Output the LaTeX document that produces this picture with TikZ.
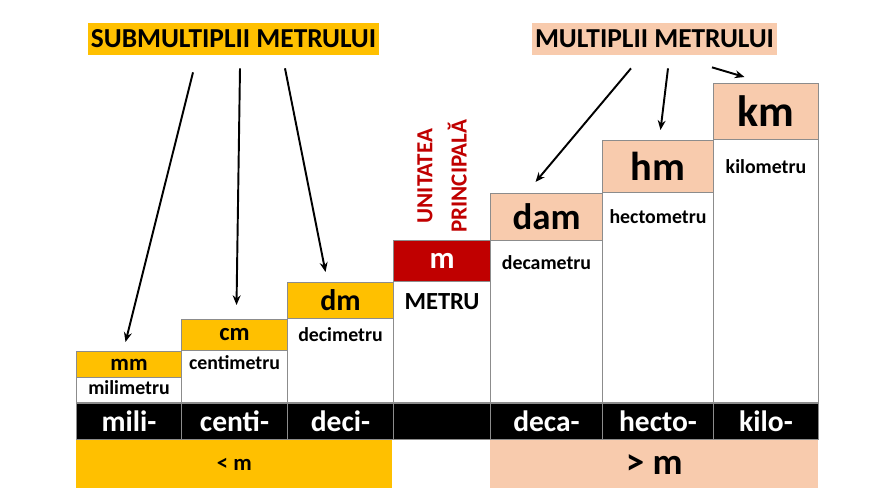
\documentclass[tikz,border=0pt]{standalone}
\usepackage{fontspec}
\setmainfont{Carlito}
\usetikzlibrary{positioning, arrows.meta}

\definecolor{subyellow}{HTML}{FFC000}
\definecolor{multpeach}{HTML}{F8CBAD}
\definecolor{unitred}{HTML}{C00000}
\definecolor{edgegray}{HTML}{8C8C8C}

\newcommand{\boldsize}[1]{\bfseries\fontsize{#1}{#1}\selectfont}

\begin{document}
\begin{tikzpicture}[
  x=0.02cm, y=-0.02cm,
  cell/.style={draw=edgegray, fill=white, anchor=north west, inner sep=0pt, line width=0.6pt},
  head/.style={draw=edgegray, anchor=north, inner sep=0pt, line width=0.6pt},
  lbl/.style={inner sep=0pt, text height=0.7em, text depth=0pt, font=\boldsize{11.3}},
  band/.style={draw=edgegray, fill=black, text=white, anchor=north, inner sep=0pt, line width=0.6pt,
    minimum height=0.72cm, font=\boldsize{16.8}},
  heading/.style={inner sep=0pt, minimum height=0.64cm, font=\boldsize{15.6}},
  arr/.style={-{Stealth[length=5.5pt, width=4.5pt]}, line width=1.1pt}
  ]
\useasboundingbox (0,0) rectangle (894,503);

% titluri
\node[heading, fill=subyellow, minimum width=5.82cm] (sub) at (233.5,39) {SUBMULTIPLII METRULUI};
\node[heading, fill=multpeach, minimum width=4.90cm] (mult) at (654.5,39) {MULTIPLII METRULUI};

% submultipli
\node[cell, minimum width=2.10cm, minimum height=1.02cm] (c1) at (76,351) {};
\node[head, fill=subyellow, minimum width=2.10cm, minimum height=0.52cm, font=\boldsize{13}] (mm) at (c1.north) {mm};
\node[lbl, below=2.3pt of mm] (milimetru) {milimetru};

\node[cell, minimum width=2.12cm, minimum height=1.66cm] (c2) at (181,319) {};
\node[head, fill=subyellow, minimum width=2.12cm, minimum height=0.62cm, font=\boldsize{14}] (cm) at (c2.north) {cm};
\node[lbl, below=3.4pt of cm] (centimetru) {centimetru};

\node[cell, minimum width=2.12cm, minimum height=2.40cm] (c3) at (287,282) {};
\node[head, fill=subyellow, minimum width=2.12cm, minimum height=0.72cm, font=\boldsize{17}] (dm) at (c3.north) {dm};
\node[lbl, below=5.7pt of dm] (decimetru) {decimetru};

% unitatea principala
\node[cell, minimum width=1.94cm, minimum height=3.24cm] (c4) at (393,240) {};
\node[head, fill=unitred, text=white, minimum width=1.94cm, minimum height=0.82cm, font=\boldsize{17.5}] (m) at (c4.north) {m};
\node[lbl, below=8.2pt of m, font=\boldsize{14}] (metru) {METRU};
\node[rotate=90, anchor=west, align=center, inner sep=0pt, text=unitred,
  font=\bfseries\fontsize{13.1}{19.5}\selectfont] (princ) at ([shift={(0,-7)}]m.north) {UNITATEA\\PRINCIPALĂ};

% multipli
\node[cell, minimum width=2.24cm, minimum height=4.18cm] (c5) at (490,193) {};
\node[head, fill=multpeach, minimum width=2.24cm, minimum height=0.94cm, font=\boldsize{21}] (dam) at (c5.north) {dam};
\node[lbl, below=9.1pt of dam] (decametru) {decametru};

\node[cell, minimum width=2.22cm, minimum height=5.24cm] (c6) at (602,140) {};
\node[head, fill=multpeach, minimum width=2.22cm, minimum height=1.04cm, font=\boldsize{23}] (hm) at (c6.north) {hm};
\node[lbl, below=10.2pt of hm] (hectometru) {hectometru};

\node[cell, minimum width=2.10cm, minimum height=6.38cm] (c7) at (713,83) {};
\node[head, fill=multpeach, minimum width=2.10cm, minimum height=1.12cm, font=\boldsize{25}] (km) at (c7.north) {km};
\node[lbl, below=11.9pt of km] (kilometru) {kilometru};

% prefixe
\node[band, minimum width=2.10cm, below=0pt of c1] (mili) {mili-};
\node[band, minimum width=2.12cm, below=0pt of c2] (centi) {centi-};
\node[band, minimum width=2.12cm, below=0pt of c3] (deci) {deci-};
\node[band, minimum width=1.94cm, below=0pt of c4] (unit) {};
\node[band, minimum width=2.24cm, below=0pt of c5] (deca) {deca-};
\node[band, minimum width=2.22cm, below=0pt of c6] (hecto) {hecto-};
\node[band, minimum width=2.10cm, below=0pt of c7] (kilo) {kilo-};

\node[fill=subyellow, anchor=north west, inner sep=0pt, minimum width=6.32cm, minimum height=0.96cm,
  font=\boldsize{12.9}] (less) at (mili.south west) {< m};
\node[fill=multpeach, anchor=north west, inner sep=0pt, minimum width=6.56cm, minimum height=0.96cm,
  font=\boldsize{21}] (more) at (deca.south west) {> m};

% sageti
\draw[arr] ([shift={(-40.5,17)}]sub.south) -- ([shift={(-3.5,-9)}]mm.north);
\draw[arr] ([shift={(6.5,13)}]sub.south) -- ([shift={(2,-14)}]cm.north);
\draw[arr] ([shift={(51.5,13)}]sub.south) -- ([shift={(-15,-10)}]dm.north);
\draw[arr] ([shift={(-23.5,13)}]mult.south) -- ([shift={(-11,-11)}]dam.north);
\draw[arr] ([shift={(13.5,13)}]mult.south) -- ([shift={(2.5,-10)}]hm.north);
\draw[arr] ([shift={(57.5,12)}]mult.south) -- ([shift={(-21.5,-6)}]km.north);

\end{tikzpicture}
\end{document}
